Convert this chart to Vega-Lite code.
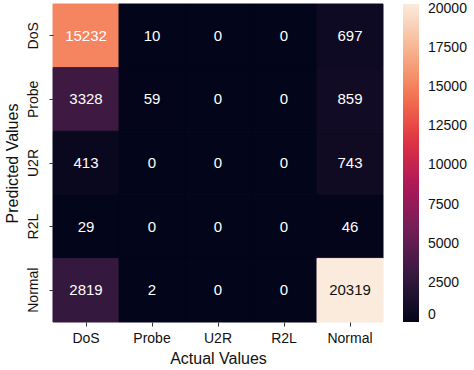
{
  "$schema": "https://vega.github.io/schema/vega-lite/v6.json",
  "autosize": "none",
  "width": 330,
  "height": 318,
  "padding": {"left": 53, "top": 4, "right": 91, "bottom": 48},
  "background": "white",
  "config": {
    "font": "Liberation Sans",
    "view": {"stroke": null},
    "axis": {"domain": false, "grid": false, "tickColor": "#333", "tickSize": 4, "labelColor": "#111", "titleColor": "#111", "labelFont": "Liberation Sans", "titleFont": "Liberation Sans", "titleFontWeight": "normal"}
  },
  "data": {
    "values": [
      {"pred": "DoS", "actual": "DoS", "count": 15232},
      {"pred": "DoS", "actual": "Probe", "count": 10},
      {"pred": "DoS", "actual": "U2R", "count": 0},
      {"pred": "DoS", "actual": "R2L", "count": 0},
      {"pred": "DoS", "actual": "Normal", "count": 697},
      {"pred": "Probe", "actual": "DoS", "count": 3328},
      {"pred": "Probe", "actual": "Probe", "count": 59},
      {"pred": "Probe", "actual": "U2R", "count": 0},
      {"pred": "Probe", "actual": "R2L", "count": 0},
      {"pred": "Probe", "actual": "Normal", "count": 859},
      {"pred": "U2R", "actual": "DoS", "count": 413},
      {"pred": "U2R", "actual": "Probe", "count": 0},
      {"pred": "U2R", "actual": "U2R", "count": 0},
      {"pred": "U2R", "actual": "R2L", "count": 0},
      {"pred": "U2R", "actual": "Normal", "count": 743},
      {"pred": "R2L", "actual": "DoS", "count": 29},
      {"pred": "R2L", "actual": "Probe", "count": 0},
      {"pred": "R2L", "actual": "U2R", "count": 0},
      {"pred": "R2L", "actual": "R2L", "count": 0},
      {"pred": "R2L", "actual": "Normal", "count": 46},
      {"pred": "Normal", "actual": "DoS", "count": 2819},
      {"pred": "Normal", "actual": "Probe", "count": 2},
      {"pred": "Normal", "actual": "U2R", "count": 0},
      {"pred": "Normal", "actual": "R2L", "count": 0},
      {"pred": "Normal", "actual": "Normal", "count": 20319}
    ]
  },
  "encoding": {
    "x": {
      "field": "actual", "type": "nominal",
      "sort": ["DoS", "Probe", "U2R", "R2L", "Normal"],
      "scale": {"paddingInner": 0, "paddingOuter": 0},
      "axis": {"title": "Actual Values", "labelAngle": 0, "labelFontSize": 14, "titleFontSize": 16, "labelPadding": 5, "titlePadding": 5}
    },
    "y": {
      "field": "pred", "type": "nominal",
      "sort": ["DoS", "Probe", "U2R", "R2L", "Normal"],
      "scale": {"paddingInner": 0, "paddingOuter": 0},
      "axis": {"title": "Predicted Values", "labelAngle": -90, "labelAlign": "center", "labelBaseline": "bottom", "labelFontSize": 14, "titleFontSize": 16, "labelPadding": 9, "titlePadding": 6}
    }
  },
  "layer": [
    {
      "mark": {"type": "rect", "strokeWidth": 1},
      "encoding": {
        "color": {
          "field": "count", "type": "quantitative",
          "scale": {
            "domain": [0, 2902.7, 5805.4, 8708.1, 11610.9, 14513.6, 17416.3, 20319],
            "range": ["#03051a", "#35193e", "#701f57", "#ad1759", "#e13342", "#f37651", "#f6b48f", "#faebdd"],
            "interpolate": "rgb"
          },
          "legend": {
            "title": null,
            "orient": "none",
            "legendX": 350,
            "legendY": 0,
            "padding": 0,
            "direction": "vertical",
            "gradientLength": 318,
            "gradientThickness": 16,
            "gradientStrokeWidth": 0,
            "values": [0, 2500, 5000, 7500, 10000, 12500, 15000, 17500, 20000],
            "format": "d",
            "labelFontSize": 14,
            "labelColor": "#111",
            "labelOffset": 9,
            "labelOverlap": false
          }
        },
        "stroke": {
          "field": "count", "type": "quantitative",
          "scale": {
            "domain": [0, 2902.7, 5805.4, 8708.1, 11610.9, 14513.6, 17416.3, 20319],
            "range": ["#03051a", "#35193e", "#701f57", "#ad1759", "#e13342", "#f37651", "#f6b48f", "#faebdd"],
            "interpolate": "rgb"
          },
          "legend": null
        }
      }
    },
    {
      "mark": {"type": "text", "fontSize": 15, "font": "Liberation Sans"},
      "encoding": {
        "text": {"field": "count", "type": "quantitative", "format": "d"},
        "color": {
          "condition": {"test": "datum.count > 17000", "value": "#111111"},
          "value": "white"
        }
      }
    }
  ],
  "resolve": {"scale": {"color": "independent"}}
}
